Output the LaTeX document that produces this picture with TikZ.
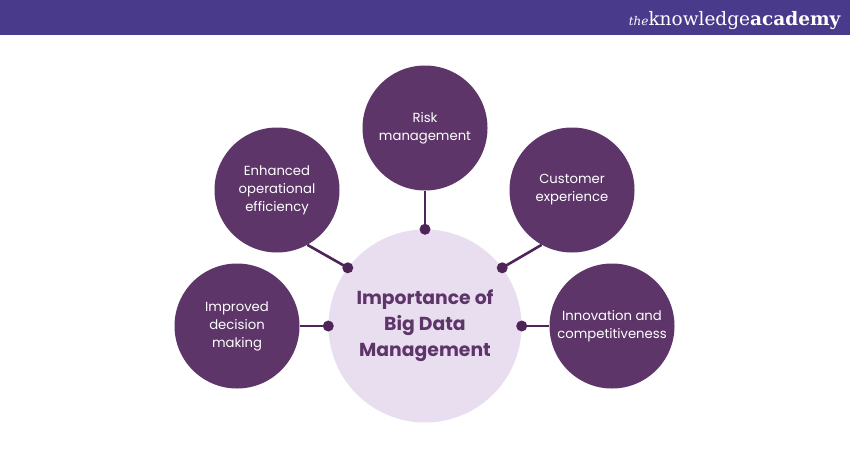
\documentclass[tikz,border=0pt]{standalone}
\usepackage{fontspec}
\setmainfont{Poppins}
\newfontfamily\logofont{DejaVu Serif}
\definecolor{banner}{HTML}{4A3A8C}
\definecolor{bubble}{HTML}{5D3569}
\definecolor{hub}{HTML}{E9DEF0}
\definecolor{wire}{HTML}{4E2459}
\begin{document}
\begin{tikzpicture}[x=1pt,y=-1pt,
  bubble/.style={circle,fill=bubble,minimum size=125pt,inner sep=0pt,text=white,
    align=center,font=\fontsize{13.2}{18}\selectfont},
  hubnode/.style={circle,fill=hub,minimum size=193pt,inner sep=0pt,text=bubble,
    align=center,font=\fontsize{18.8}{26}\selectfont\bfseries},
  wireline/.style={draw=wire,line width=2.6pt},
  dot/.style={circle,fill=wire,minimum size=11pt,inner sep=0pt}]
\useasboundingbox (0,0) rectangle (850,450);
\fill[white] (0,0) rectangle (850,450);
\fill[banner] (0,0) rectangle (850,35);
\node[anchor=base east,text=white,inner sep=0pt] (logo) at (841,25)
  {\logofont\fontsize{18.5}{20}\selectfont{\itshape\fontsize{12}{14}\selectfont the}knowledge\textbf{academy}};

\node[hubnode] (hub) at (425,326) {Importance of\\Big Data\\Management};

\node[bubble] (risk) at (425,128) {Risk\\management};
\node[bubble] (enh) at (277,190) {Enhanced\\operational\\efficiency};
\node[bubble] (cust) at (572,190) {Customer\\experience};
\node[bubble] (impr) at (237,326) {Improved\\decision\\making};
\node[bubble] (innov) at (612,326) {Innovation and\\competitiveness};

\coordinate (dtop) at (hub.90);
\coordinate (dul) at (hub.143);
\coordinate (dur) at (hub.37);
\coordinate (dl) at (hub.180);
\coordinate (dr) at (hub.0);

\draw[wireline] (dtop) -- (risk);
\draw[wireline] (dul) -- (enh.-61);
\draw[wireline] (dur) -- (cust.-119);
\draw[wireline] (dl) -- (impr);
\draw[wireline] (dr) -- (innov);

\node[dot] (p1) at (dtop) {};
\node[dot] (p2) at (dul) {};
\node[dot] (p3) at (dur) {};
\node[dot] (p4) at (dl) {};
\node[dot] (p5) at (dr) {};
\end{tikzpicture}
\end{document}
